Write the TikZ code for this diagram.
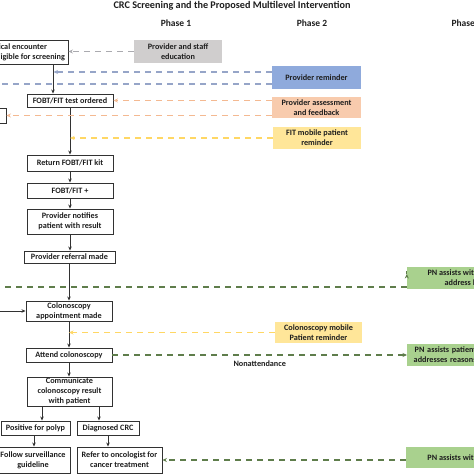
\documentclass[tikz,border=0pt]{standalone}
\usepackage{fontspec}
\setmainfont{Carlito}
\usetikzlibrary{arrows.meta,calc}
\definecolor{txt}{RGB}{30,30,30}
\definecolor{edge}{RGB}{50,50,50}
\definecolor{grayline}{RGB}{170,170,175}
\definecolor{grayfill}{RGB}{208,206,206}
\definecolor{blueline}{RGB}{150,165,200}
\definecolor{bluefill}{RGB}{143,170,220}
\definecolor{orline}{RGB}{244,185,145}
\definecolor{orfill}{RGB}{248,203,173}
\definecolor{yeline}{RGB}{255,215,100}
\definecolor{yefill}{RGB}{255,230,153}
\definecolor{grline}{RGB}{95,125,75}
\definecolor{grfill}{RGB}{169,209,142}
\tikzset{
  stepbox/.style={draw=edge, line width=0.9pt, fill=white, align=center, inner sep=0pt,
    text=txt, font=\bfseries\fontsize{8.2}{9.8}\selectfont},
  ivbox/.style={align=center, inner sep=0pt, text=txt, font=\bfseries\fontsize{8.2}{9.8}\selectfont},
  flow/.style={draw=edge, line width=0.8pt, -{Stealth[length=4pt,width=3.5pt]}},
  dline/.style={line width=1.3pt, dash pattern=on 6pt off 5pt},
  dtip/.style={-{Stealth[length=4.5pt,width=4pt]}},
  hdr/.style={text=txt, font=\bfseries\fontsize{9.5}{11}\selectfont},
}
\begin{document}
\begin{tikzpicture}[x=1pt,y=-1pt]
\useasboundingbox (0,0) rectangle (474,474);
\clip (0,0) rectangle (474,474);
\fill[white] (0,0) rectangle (474,474);

% headers
\node[hdr, font=\bfseries\fontsize{10.2}{12}\selectfont] (title) at (232,5.5) {CRC Screening and the Proposed Multilevel Intervention};
\node[hdr] (ph1) at (176,23) {Phase 1};
\node[hdr] (ph2) at (312,23) {Phase 2};
\node[hdr, anchor=west] (ph3) at (448,23) {Phase 3};

% process boxes
\node[stepbox, minimum width=85pt, minimum height=24pt, align=right] (enc) at (25.5,52) {Clinical encounter\hspace*{18pt}\\Eligible for screening};
\node[stepbox, minimum width=86pt, minimum height=13pt] (fobt) at (70,100.5) {FOBT/FIT test ordered};
\node[stepbox, minimum width=92pt, minimum height=15pt] (side) at (-40,115.5) {};
\node[stepbox, minimum width=86pt, minimum height=16pt] (ret) at (70,163) {Return FOBT/FIT kit};
\node[stepbox, minimum width=86pt, minimum height=15pt] (pos) at (70,190.5) {FOBT/FIT +};
\node[stepbox, minimum width=86pt, minimum height=25pt] (notif) at (70,221.5) {Provider notifies\\patient with result};
\node[stepbox, minimum width=91pt, minimum height=12pt] (ref) at (69.5,257) {Provider referral made};
\node[stepbox, minimum width=86pt, minimum height=20pt] (colo) at (69,311) {Colonoscopy\\appointment made};
\node[stepbox, minimum width=86pt, minimum height=14pt] (att) at (69,355) {Attend colonoscopy};
\node[stepbox, minimum width=85pt, minimum height=29pt] (comm) at (69.5,391.5) {Communicate\\colonoscopy result\\with patient};
\node[stepbox, minimum width=69pt, minimum height=14pt] (polyp) at (35.5,428) {Positive for polyp};
\node[stepbox, minimum width=74pt, minimum height=26pt] (follow) at (33,460) {Follow surveillance\\guideline};
\node[stepbox, minimum width=62pt, minimum height=14pt] (crc) at (108,428) {Diagnosed CRC};
\node[stepbox, minimum width=85pt, minimum height=26pt] (onc) at (119.5,460) {Refer to oncologist for\\cancer treatment};

% intervention boxes
\node[ivbox, fill=grayfill, minimum width=88pt, minimum height=23pt] (edu) at (178,51.5) {Provider and staff\\education};
\node[ivbox, fill=bluefill, minimum width=89pt, minimum height=23pt] (rem) at (316.5,77.5) {Provider reminder};
\node[ivbox, fill=orfill, minimum width=89pt, minimum height=21pt] (assess) at (316.5,107.5) {Provider assessment\\and feedback};
\node[ivbox, fill=yefill, minimum width=88pt, minimum height=22pt] (fitm) at (317,138) {FIT mobile patient\\reminder};
\node[ivbox, fill=yefill, minimum width=87pt, minimum height=21pt] (colm) at (318.5,332.5) {Colonoscopy mobile\\Patient reminder};
\node[ivbox, fill=grfill, minimum width=130pt, minimum height=22pt] (pn1) at (472,278) {PN assists with scheduling\\address barriers};
\node[ivbox, fill=grfill, minimum width=130pt, minimum height=22pt, text width=117pt, align=left, anchor=west] (pn2) at (407,355) {\hspace*{1pt}PN assists patient and\\addresses reasons};
\node[ivbox, fill=grfill, minimum width=130pt, minimum height=21pt] (pn3) at (471,457.5) {PN assists with treatment};

% helper coordinates
\coordinate (x53) at (53,0);
\coordinate (x34) at (34,0);
\coordinate (bl1) at (53.5,72);
\coordinate (bl2) at (-5,84);
\coordinate (gr2) at (-5,287);
\coordinate (inl) at (-5,311);
\coordinate (x42) at (42,0);
\coordinate (x99) at (99,0);

% process flow
\draw[flow] (enc.south -| x53) -- (fobt.north -| x53);
\draw[flow] (fobt.south) -- (ret.north);
\draw[flow] (ret.south) -- (pos.north);
\draw[flow] (pos.south) -- (notif.north);
\draw[flow] (notif.south) -- (notif.south |- ref.north);
\draw[flow] (ref.south -| colo.north) -- (colo.north);
\draw[flow] (inl) -- (colo.west);
\draw[flow] (colo.south) -- (att.north);
\draw[flow] (att.south) -- (att.south |- comm.north);
\draw[flow] (comm.south -| x42) -- (polyp.north -| x42);
\draw[flow] (comm.south -| x99) -- (crc.north -| x99);
\draw[flow] (polyp.south -| x34) -- (follow.north -| x34);
\draw[flow] (crc.south) -- (crc.south |- onc.north);

% interventions
\draw[dline, grayline, dtip] (edu.west) -- (edu.west -| enc.east);
\draw[dline, blueline, dtip] (rem.west |- bl1) -- (bl1);
\draw[dline, blueline] (rem.west |- bl2) -- (bl2);
\draw[dline, orline, dtip] (fobt.east -| assess.west) -- (fobt.east);
\draw[dline, orline, dtip] (side.east -| assess.west) -- (side.east);
\draw[dline, yeline, dtip] (fitm.west) -- (fitm.west -| fobt.south);
\draw[dline, grline, dtip] ($(pn1.west)+(0,-4)$) -- ($(pn1.west)+(0,-4)$ -| ref.south);
\draw[dline, grline] ($(pn1.west)+(0,9)$) -- (gr2);
\draw[dline, yeline, dtip] (colm.west) -- (colm.west -| colo.south);
\draw[dline, grline, dtip] (att.east) -- (pn2.west) node[pos=0.5, below=2pt, text=txt, font=\bfseries\fontsize{8.2}{9.8}\selectfont] (nonatt) {Nonattendance};
\draw[dline, grline, dtip] (onc.east -| pn3.west) -- (onc.east);
\end{tikzpicture}
\end{document}
